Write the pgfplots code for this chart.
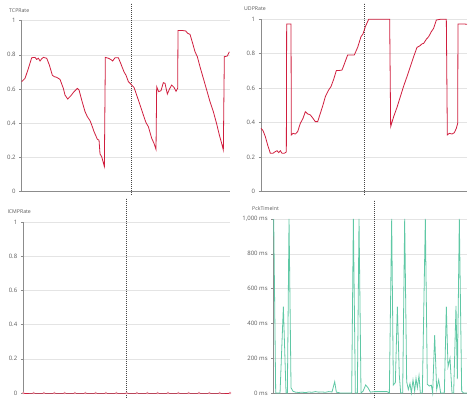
\documentclass[border=0pt]{standalone}
\usepackage{pgfplots}
\pgfplotsset{compat=1.18}
\usepackage{fontspec}
\setmainfont{Open Sans}
\definecolor{lred}{RGB}{208,30,62}
\definecolor{lteal}{RGB}{95,200,165}
\definecolor{axgray}{RGB}{140,140,140}
\definecolor{gridgray}{RGB}{228,228,228}
\definecolor{txtgray}{RGB}{90,90,90}
\definecolor{dashgray}{RGB}{70,70,70}
\tikzset{vdash/.style={dashgray,dash pattern=on 1.2pt off 0.8pt,line width=0.6pt}}
\pgfplotsset{
  panel/.style={
    scale only axis,
    axis x line=bottom, axis y line=left,
    axis line style={-,axgray,line width=0.6pt},
    ymajorgrids, grid style={gridgray,line width=0.6pt},
    xtick=\empty,
    ytick align=outside, major tick length=2.5pt,
    tick style={axgray,line width=0.5pt},
    yticklabel style={font=\fontsize{6}{6}\selectfont,text=txtgray},
    /pgf/number format/assume math mode=true,
    ymin=0, ymax=1, ytick={0,0.2,...,1},
    yticklabels={0,0.2,0.4,0.6,0.8,1},
    clip=false,
  },
}
\begin{document}
\begin{tikzpicture}
\path[use as bounding box] (0,0) rectangle (474pt,-398pt);
% TCP
\begin{axis}[panel, at={(21.7pt,-191.3pt)}, anchor=south west,
  width=208.3pt, height=170.6pt, xmin=65, xmax=690]
\draw[vdash] (axis cs:395,0) ++(0pt,-3.7pt) -- ++(0pt,192pt);
\addplot[lred, line width=0.8pt] coordinates {
(65,0.643)(75,0.662)(85,0.72)(95,0.783)(105,0.785)(110,0.773)(115,0.78)(120,0.764)
(125,0.777)(130,0.785)(140,0.78)(148,0.74)(157,0.68)(163,0.672)(170,0.668)(180,0.656)
(190,0.603)(195,0.564)(203,0.541)(212,0.559)(222,0.584)(232,0.603)(237,0.594)(245,0.535)
(255,0.467)(262,0.4375)(270,0.414)(275,0.389)(282,0.35)(292,0.305)(297,0.30)(300,0.219)
(305,0.203)(313,0.145)(316,0.785)(325,0.78)(332,0.773)(338,0.764)(345,0.783)(355,0.783)
(362,0.75)(372,0.70)(378,0.68)(385,0.643)(395,0.623)(402,0.609)(410,0.564)(420,0.506)
(430,0.447)(438,0.402)(445,0.379)(455,0.311)(462,0.281)(468,0.246)(470,0.613)(476,0.584)
(483,0.59)(490,0.637)(495,0.633)(502,0.57)(508,0.598)(515,0.623)(522,0.609)(528,0.586)
(533,0.604)(534,0.943)(545,0.943)(557,0.94)(563,0.926)(570,0.92)(578,0.867)(585,0.818)
(592,0.789)(600,0.73)(610,0.662)(620,0.594)(630,0.525)(640,0.467)(650,0.395)(658,0.33)
(665,0.281)(670,0.242)(673,0.789)(682,0.793)(688,0.818)};
\end{axis}
% UDP
\begin{axis}[panel, at={(261pt,-191.3pt)}, anchor=south west,
  width=206pt, height=172pt, xmin=72, xmax=690]
\draw[vdash] (axis cs:382,0) ++(0pt,-3.7pt) -- ++(0pt,192pt);
\addplot[lred, line width=0.8pt] coordinates {
(72,0.366)(78,0.353)(85,0.318)(92,0.269)(100,0.221)(108,0.221)(115,0.231)(120,0.236)
(125,0.225)(130,0.236)(135,0.221)(142,0.221)(148,0.229)(149,0.973)(162,0.973)(163,0.328)
(168,0.337)(175,0.333)(182,0.347)(190,0.395)(198,0.424)(205,0.463)(212,0.45)(220,0.444)
(228,0.424)(235,0.405)(242,0.405)(250,0.453)(258,0.502)(265,0.55)(270,0.57)(275,0.589)
(282,0.609)(290,0.651)(298,0.702)(305,0.702)(315,0.705)(322,0.74)(332,0.793)(342,0.793)
(352,0.793)(362,0.837)(372,0.899)(378,0.915)(385,0.957)(395,1.0)(410,1.0)(445,1.0)
(458,1.0)(461,0.376)(470,0.434)(480,0.488)(490,0.55)(500,0.612)(510,0.667)(520,0.725)
(530,0.783)(540,0.837)(548,0.845)(555,0.857)(560,0.86)(568,0.884)(575,0.899)(583,0.928)
(590,0.948)(598,0.996)(610,1.0)(628,1.0)(631,0.328)(637,0.337)(645,0.333)(652,0.341)
(658,0.366)(662,0.395)(663,0.973)(680,0.973)(690,0.971)};
\end{axis}
% ICMP
\begin{axis}[panel, at={(23.3pt,-393pt)}, anchor=south west,
  width=206.7pt, height=170.7pt, xmin=70, xmax=690]
\draw[vdash] (axis cs:378,0) ++(0pt,-5pt) -- ++(0pt,200pt);
\addplot[lred, line width=0.8pt, mark=*, mark size=0.7pt,
  mark options={fill=white,draw=lred!50}] coordinates {
(70,0)(101,0)(132,0)(163,0)(194,0)(225,0)(256,0)(287,0)(318,0)(349,0)(380,0)
(411,0)(442,0)(473,0)(504,0)(535,0)(566,0)(597,0)(628,0)(659,0)(690,0)};
\end{axis}
% PckTimeInt
\begin{axis}[panel, at={(273.7pt,-393pt)}, anchor=south west,
  width=193.3pt, height=174pt, xmin=110, xmax=690,
  ymin=0, ymax=1000, ytick={0,200,...,1000},
  yticklabels={0 ms,200 ms,400 ms,600 ms,800 ms,{1,000 ms}}]
\draw[vdash] (axis cs:413,0) ++(0pt,-5pt) -- ++(0pt,198pt);
\addplot[lteal, line width=0.8pt] coordinates {
(110,1000)(116,0)(129,0)(139,496)(147,0)(151,0)(156,1000)(162,30)(168,10)(175,5)
(185,3)(195,5)(205,2)(215,6)(225,4)(235,8)(245,5)(255,6)(265,4)(275,8)(285,6)
(293,65)(298,5)(310,0)(344,0)(349,1000)(355,0)(361,0)(366,1000)(372,0)(378,10)
(386,46)(393,30)(400,5)(413,8)(430,8)(450,8)(457,0)(464,1000)(469,46)(475,60)
(481,496)(487,100)(491,0)(497,0)(503,1000)(509,65)(514,20)(519,55)(523,0)(528,75)
(533,10)(537,85)(541,30)(546,100)(550,0)(556,0)(565,1000)(571,50)(577,40)(583,45)
(587,0)(593,333)(599,20)(605,75)(611,0)(622,0)(628,496)(633,150)(639,199)(645,0)
(650,0)(657,500)(661,80)(667,1000)(674,10)(680,0)(690,0)};
\end{axis}
\begin{scope}[every node/.style={anchor=west,inner sep=0pt,text=txtgray,
  font=\fontsize{5.2}{6}\selectfont}]
\node at (9pt,-10.3pt) {TCPRate};
\node at (244pt,-8.3pt) {UDPRate};
\node at (7.3pt,-211.3pt) {ICMPRate};
\node at (252pt,-209pt) {PckTimeInt};
\end{scope}
\end{tikzpicture}
\end{document}
